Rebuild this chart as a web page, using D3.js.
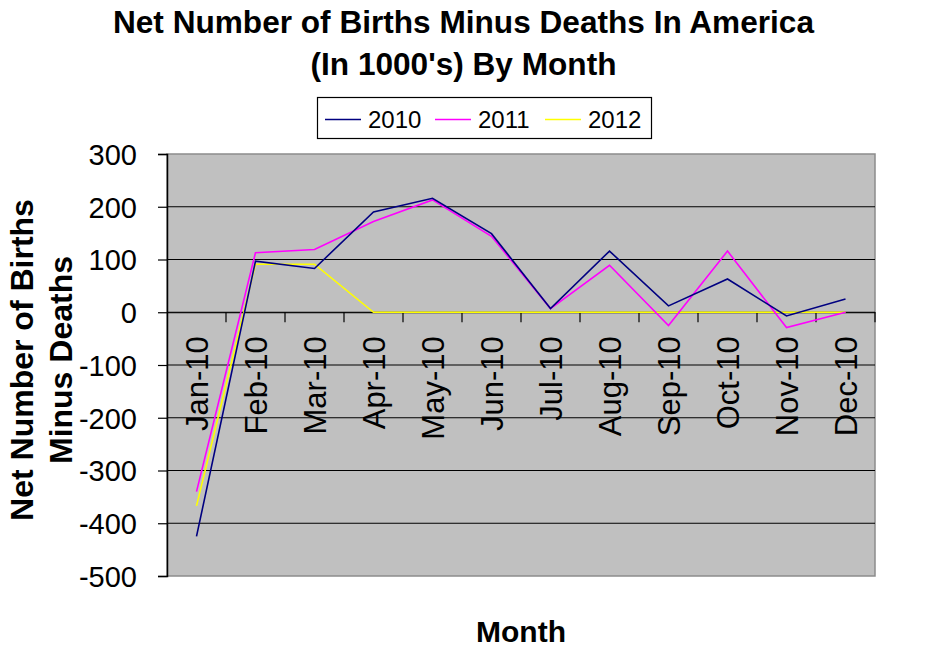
<!DOCTYPE html>
<html>
<head>
<meta charset="utf-8">
<script src="https://cdn.jsdelivr.net/npm/d3@7"></script>
<style>
  html, body { margin: 0; padding: 0; background: #fff; }
  svg { display: block; font-family: Arial, "Liberation Sans", sans-serif; }
</style>
</head>
<body>
<svg id="chart" width="927" height="662"></svg>
<script>
// ---- Data ----
const months = ["Jan-10","Feb-10","Mar-10","Apr-10","May-10","Jun-10","Jul-10","Aug-10","Sep-10","Oct-10","Nov-10","Dec-10"];
const seriesNames = ["2010","2011","2012"];
const values2010 = [-425, 97, 83, 190, 216, 149, 7, 116, 12, 63, -7, 25];
const values2011 = [-340, 113, 119, 172, 213, 144, 7, 89, -25, 116, -29, 0];
const values2012 = [-367, 91, 91, 0, 0, 0, 0, 0, 0, 0, 0, 0];
const yTicks = [300, 200, 100, 0, -100, -200, -300, -400, -500];
const seriesColors = ["#000080", "#FF00FF", "#FFFF00"];

const series = [values2010, values2011, values2012].map((v, i) => ({name: seriesNames[i], values: v, color: seriesColors[i]}));

// ---- Layout ----
const svg = d3.select("#chart");
const plotLeft = 167, plotRight = 875, plotTop = 154, plotBottom = 576;

const x = d3.scaleBand().domain(months).range([plotLeft, plotRight]).padding(0);
const y = d3.scaleLinear().domain([-500, 300]).range([plotBottom, plotTop]);

// Plot area background
svg.append("rect")
  .attr("x", plotLeft).attr("y", plotTop)
  .attr("width", plotRight - plotLeft).attr("height", plotBottom - plotTop)
  .attr("fill", "#C0C0C0")
  .attr("stroke", "#8C8C8C").attr("stroke-width", 1.5);

// Gridlines
svg.append("g").selectAll("line").data(yTicks.filter(d => d !== 300 && d !== -500)).join("line")
  .attr("x1", plotLeft).attr("x2", plotRight)
  .attr("y1", d => y(d)).attr("y2", d => y(d))
  .attr("stroke", "#000").attr("stroke-width", 1.2);

// Y axis
const yAxis = d3.axisLeft(y).tickValues(yTicks).tickSize(9).tickPadding(0).tickFormat(d => String(d));
const gy = svg.append("g").attr("transform", `translate(${plotLeft},0)`).call(yAxis);
gy.select(".domain").attr("stroke", "#000").attr("stroke-width", 1.5);
gy.selectAll(".tick line").attr("stroke", "#000").attr("stroke-width", 1.2);
gy.selectAll(".tick text")
  .attr("x", -30)
  .attr("dy", "0.36em")
  .attr("font-size", 29)
  .attr("font-family", "Arial, 'Liberation Sans', sans-serif")
  .attr("fill", "#000");

// X axis on zero line
const xAxis = d3.axisBottom(x).tickSize(0).tickFormat("");
const gx = svg.append("g").attr("transform", `translate(0,${y(0)})`).call(xAxis);
gx.select(".domain").attr("stroke", "#000").attr("stroke-width", 1.2);
// tick marks at category boundaries
const boundaries = months.slice(1).map(m => x(m)).concat([x(months[months.length - 1]) + x.bandwidth()]);
gx.selectAll(".bound").data(boundaries).join("line")
  .attr("class", "bound")
  .attr("x1", d => d).attr("x2", d => d)
  .attr("y1", 0).attr("y2", 10)
  .attr("stroke", "#000").attr("stroke-width", 1.2);

// X tick labels (rotated)
svg.append("g").selectAll("text").data(months).join("text")
  .attr("transform", d => `translate(${x(d) + x.bandwidth() / 2 + 11},${y(0) + 24}) rotate(-90)`)
  .attr("text-anchor", "end")
  .attr("font-size", 31)
  .attr("fill", "#000")
  .text(d => d);

// Lines
const line = d3.line()
  .x((d, i) => x(months[i]) + x.bandwidth() / 2)
  .y(d => y(d));

svg.append("g").selectAll("path").data(series.slice().reverse()).join("path")
  .attr("d", d => line(d.values))
  .attr("fill", "none")
  .attr("stroke", d => d.color)
  .attr("stroke-width", 1.6);

// Title
const title = svg.append("text")
  .attr("x", 463.5).attr("text-anchor", "middle")
  .attr("font-size", 31.6).attr("font-weight", "bold").attr("fill", "#000");
title.append("tspan").attr("x", 463.5).attr("y", 33).text("Net Number of Births Minus Deaths In America");
title.append("tspan").attr("x", 463.5).attr("y", 75).text("(In 1000's) By Month");

// Y axis title
const yt = svg.append("text")
  .attr("transform", "translate(0,360) rotate(-90)")
  .attr("text-anchor", "middle")
  .attr("font-size", 32).attr("font-weight", "bold").attr("fill", "#000");
yt.append("tspan").attr("x", 0).attr("y", 33).text("Net Number of Births");
yt.append("tspan").attr("x", 0).attr("y", 72).text("Minus Deaths");

// X axis title
svg.append("text")
  .attr("x", (plotLeft + plotRight) / 2).attr("y", 642)
  .attr("text-anchor", "middle")
  .attr("font-size", 30).attr("font-weight", "bold").attr("fill", "#000")
  .text("Month");

// Legend
const legend = svg.append("g");
legend.append("rect")
  .attr("x", 317.5).attr("y", 97.5).attr("width", 334).attr("height", 41)
  .attr("fill", "#fff").attr("stroke", "#000").attr("stroke-width", 1.2);
const legendX = [325, 435, 545];
const items = legend.selectAll("g.item").data(series).join("g").attr("class", "item")
  .attr("transform", (d, i) => `translate(${legendX[i]},0)`);
items.append("line")
  .attr("x1", 0).attr("x2", 36).attr("y1", 119.5).attr("y2", 119.5)
  .attr("stroke", d => d.color).attr("stroke-width", 1.6);
items.append("text")
  .attr("x", 43).attr("y", 128)
  .attr("font-size", 24).attr("fill", "#000")
  .text(d => d.name);
</script>
</body>
</html>
